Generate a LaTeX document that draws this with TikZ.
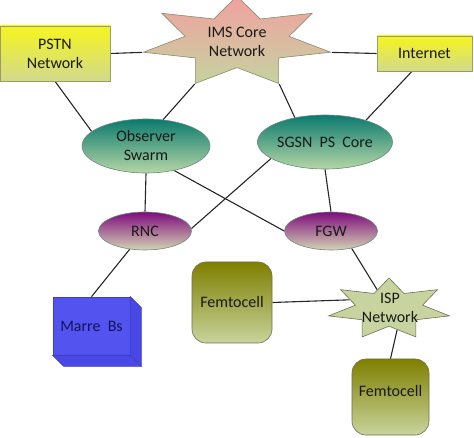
\documentclass[tikz,border=0pt]{standalone}
\usepackage{fontspec}
\setmainfont{Carlito}
\usetikzlibrary{shapes.geometric,calc,backgrounds}
\definecolor{yeltop}{HTML}{F5F51E}
\definecolor{yelbot}{HTML}{D2D98C}
\definecolor{boxedge}{HTML}{9A9A6A}
\definecolor{imstop}{HTML}{F2A0A0}
\definecolor{imsbot}{HTML}{C5D3A0}
\definecolor{staredge}{HTML}{8A8A70}
\definecolor{tealtop}{HTML}{0B7A6E}
\definecolor{tealbot}{HTML}{B5D6A5}
\definecolor{elledge}{HTML}{6A8A80}
\definecolor{purptop}{HTML}{7E0C7C}
\definecolor{purpbot}{HTML}{D4D3B4}
\definecolor{olivetop}{HTML}{7F7F00}
\definecolor{olivebot}{HTML}{C8D49C}
\definecolor{oliveedge}{HTML}{6F6F50}
\definecolor{ispfill}{HTML}{C8D4A0}
\definecolor{bluefront}{HTML}{5353F0}
\definecolor{blueside}{HTML}{4848E4}
\definecolor{blueedge}{HTML}{3D3DC8}
\definecolor{bluetext}{HTML}{14145A}
\definecolor{linecol}{HTML}{262626}
\begin{document}
\begin{tikzpicture}[x=1pt,y=-1pt,
  font=\fontsize{16}{19}\selectfont,
  every node/.style={text=black!90},
  ybox/.style={rectangle, draw=boxedge, line width=0.6pt, top color=yeltop, bottom color=yelbot, inner sep=0pt, align=center},
  ell/.style={ellipse, draw=elledge, line width=0.6pt, inner sep=0pt, align=center},
  tealell/.style={ell, top color=tealtop, bottom color=tealbot, minimum width=128, minimum height=54},
  purpell/.style={ell, top color=purptop, bottom color=purpbot, minimum width=93, minimum height=38},
  femto/.style={rectangle, rounded corners=14pt, draw=oliveedge, line width=0.6pt, top color=olivetop, bottom color=olivebot, inner sep=0pt, align=center},
  starshape/.style={star, star points=7, star point ratio=1.8, inner sep=0pt, transform shape, line width=0.6pt},
  conn/.style={draw=linecol, line width=1.1pt}
]
\useasboundingbox (0,0) rectangle (474,438);

% boxes
\node[ybox, minimum width=110, minimum height=55] (pstn) at (55,53.5) {PSTN\\Network};
\node[ybox, minimum width=95, minimum height=35] (inet) at (424.5,53.5) {Internet};

% IMS star
\begin{scope}[shift={(237,42)}, xscale=2.087]
  \node[starshape, minimum size=92, draw=staredge, top color=imstop, bottom color=imsbot] (ims) at (0,0) {};
\end{scope}
\node[align=center] (imstxt) at (237,42) {IMS Core\\Network};

% ellipses
\node[tealell] (obs) at (146,146) {Observer\\Swarm};
\node[tealell] (sgsn) at (325,142) {SGSN\ \ PS\ \ Core};
\node[purpell] (rnc) at (145,231) {RNC};
\node[purpell] (fgw) at (331,231) {FGW};

% Marre Bs cuboid
\node[rectangle, fill=bluefront, draw=blueedge, line width=0.6pt, minimum width=77, minimum height=58, inner sep=0pt, text=bluetext] (marre) at (91.5,326) {Marre\ \ Bs};
\filldraw[fill=blueside, draw=blueedge, line width=0.6pt]
  (marre.north east) -- ($(marre.north east)+(11,11)$) -- ($(marre.south east)+(11,11)$) -- (marre.south east) -- cycle;
\filldraw[fill=blueside, draw=blueedge, line width=0.6pt]
  (marre.south west) -- (marre.south east) -- ($(marre.south east)+(11,11)$) -- ($(marre.south west)+(11,11)$) -- cycle;

% femtocells
\node[femto, minimum width=80, minimum height=81] (femA) at (232,302.5) {Femtocell};
\node[femto, minimum width=77, minimum height=76, text depth=12pt] (femB) at (390.5,397) {Femtocell};

% ISP star
\begin{scope}[shift={(389,309)}, xscale=2]
  \node[starshape, minimum size=62, draw=oliveedge, fill=ispfill] (isp) at (0,0) {};
\end{scope}
\node[align=center] (isptxt) at (390,308) {ISP\\Network};

% connectors
\begin{pgfonlayer}{background}
\draw[conn] (pstn.east) -- (ims.outer point 3);
\draw[conn] (inet.west) -- (ims.outer point 6);
\draw[conn] (pstn.south) -- (obs.165);
\draw[conn] (ims.outer point 4) -- (obs.57);
\draw[conn] (ims.outer point 5) -- (sgsn.141);
\draw[conn] (inet.-125) -- (sgsn.28);
\draw[conn] (obs.south) -- (rnc.north);
\draw[conn] (obs.-41) -- (fgw.west);
\draw[conn] (sgsn.-163) -- (rnc.3);
\draw[conn] (sgsn.south) -- (fgw.north);
\draw[conn] (rnc.-130) -- (marre.north);
\draw[conn] (fgw.-40) -- (isp);
\draw[conn] (femA.east) -- (isp.155);
\draw[conn] (isp.-79) -- (femB.north);
\end{pgfonlayer}
\end{tikzpicture}
\end{document}
